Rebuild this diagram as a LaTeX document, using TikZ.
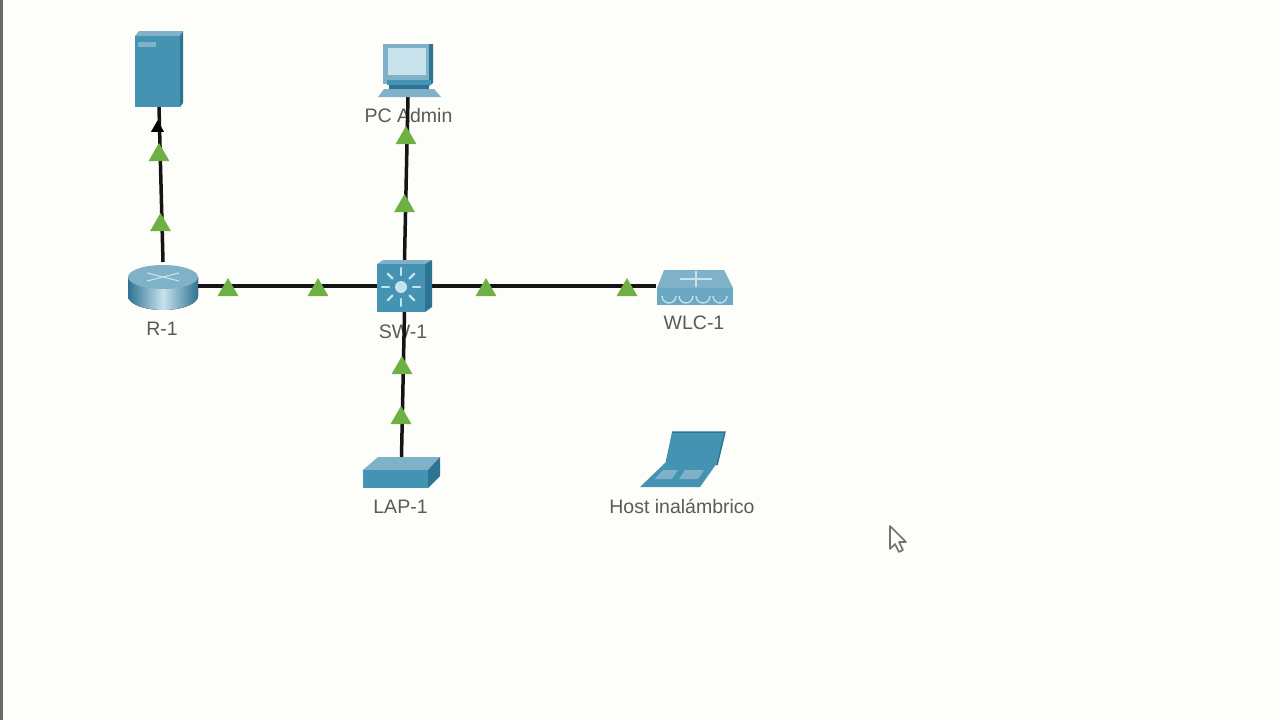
\documentclass[tikz,border=0pt]{standalone}
\usepackage{fontspec}
\setmainfont{Liberation Sans}
\usetikzlibrary{shapes.geometric,calc}
\definecolor{pagebg}{HTML}{FDFDFA}
\definecolor{edgebar}{HTML}{6A6A6A}
\definecolor{teal}{HTML}{4593B2}
\definecolor{tealdark}{HTML}{2F7392}
\definecolor{teallight}{HTML}{7FB2C8}
\definecolor{tealpale}{HTML}{C8E2EC}
\definecolor{linkgreen}{HTML}{6FB044}
\definecolor{labelgrey}{HTML}{5A5A5A}
\tikzset{
  device/.style={inner sep=0pt,outer sep=0pt,minimum width=#1},
  label text/.style={text=labelgrey,inner sep=0pt,font=\fontsize{19.5}{22}\selectfont},
  cable/.style={draw=black!92,line width=3.5pt},
  linkup/.style={regular polygon,regular polygon sides=3,fill=linkgreen,inner sep=0pt,outer sep=0pt,minimum size=24pt},
  linkend/.style={regular polygon,regular polygon sides=3,fill=black,inner sep=0pt,outer sep=0pt,minimum size=15pt},
  ray/.style={draw=tealpale,line width=2.2pt,line cap=round}
}
\begin{document}
\begin{tikzpicture}[x=1pt,y=-1pt]
\useasboundingbox (0,0) rectangle (1280,720);
\fill[pagebg] (0,0) rectangle (1280,720);
\fill[edgebar] (0,0) rectangle (3,720);

% anchors of the devices
\node[device=48pt,minimum height=74pt] (srv) at (159,70) {};
\node[device=62pt,minimum height=54pt] (pc) at (408,70) {};
\node[device=70pt,minimum height=48pt] (rtr) at (163,286) {};
\node[device=55pt,minimum height=52pt] (sw) at (404.5,286) {};
\node[device=76pt,minimum height=38pt] (wlc) at (694,286) {};
\node[device=78pt,minimum height=31pt] (lap) at (401.5,472.5) {};
\node[device=86pt,minimum height=56pt] (host) at (682,459) {};

% labels
\node[label text] (lsrvpc) at (408.5,116) {PC Admin};
\node[label text] (lrtr) at (162,329) {R-1};
\node[label text] (lsw) at (403,332) {SW-1};
\node[label text] (lwlc) at (694,323) {WLC-1};
\node[label text] (llap) at (400.5,507) {LAP-1};
\node[label text] (lhost) at (682,506) {Host inalámbrico};

% connectors
\draw[cable] (srv.south) -- (rtr.north);
\draw[cable] (sw.north) -- (pc.south);
\draw[cable] (rtr.east) -- (sw.west);
\draw[cable] (sw.east) -- (wlc.west);
\draw[cable] (sw.south) -- (lap.north);

% server
\fill[teallight] (135,36) -- (139,31) -- (183,31) -- (180,36) -- cycle;
\fill[tealdark] (180,36) -- (183,31) -- (183,103) -- (180,107) -- cycle;
\fill[teal] (135,36) rectangle (180,107);
\fill[teallight] (138,42) rectangle (156,47);

% PC
\fill[tealdark] (429,44) -- (433,44) -- (433,83) -- (429,86) -- cycle;
\fill[teallight] (383,44) rectangle (429,84);
\fill[tealpale] (388,48) rectangle (426,75);
\fill[teal] (387,80) rectangle (431,85);
\fill[tealdark] (389,85) rectangle (429,89);
\fill[teallight] (384,89) -- (434,89) -- (441,97) -- (378,97) -- cycle;

% router
\fill[left color=tealdark,right color=tealdark,middle color=tealpale] (128,277) -- (128,296) arc[start angle=180,end angle=360,x radius=35pt,y radius=14pt] -- (198,277) -- cycle;
\fill[teallight] (163,277) ellipse[x radius=35pt,y radius=12pt];
\draw[tealpale,line width=1.2pt] (147,273) -- (179,281) (147,281) -- (179,273);

% switch
\fill[teallight] (377,264) -- (383,260) -- (432,260) -- (425,264) -- cycle;
\fill[tealdark] (425,264) -- (432,260) -- (432,307) -- (425,312) -- cycle;
\fill[teal] (377,264) rectangle (425,312);
\fill[tealpale] (401,287) circle[radius=6pt];
\foreach \a in {0,45,...,315}
  \draw[ray] ($(401,287)+(\a:12pt)$) -- ($(401,287)+(\a:19pt)$);

% WLC
\fill[teallight] (664,270) -- (724,270) -- (733,288) -- (657,288) -- cycle;
\draw[tealpale,line width=1.5pt] (696,271) -- (696,287) (680,279) -- (712,279);
\fill[teal!80!white] (657,288) rectangle (733,305);
\foreach \c in {669,686,703,720}
  \draw[tealpale,line width=1.3pt] (\c-7,296) arc[start angle=180,end angle=360,radius=7pt];

% LAP
\fill[teallight] (363,470) -- (378,457) -- (440,457) -- (428,470) -- cycle;
\fill[tealdark] (428,470) -- (440,457) -- (440,476) -- (428,488) -- cycle;
\fill[teal] (363,470) rectangle (428,488);

% laptop
\fill[teal] (672,432) -- (725,432) -- (717,465) -- (665,465) -- cycle;
\draw[tealdark,line width=1.5pt] (672,432) -- (725,432) -- (717,465);
\fill[teal] (665,463) -- (717,463) -- (700,487) -- (640,487) -- cycle;
\fill[teallight] (663,470) -- (678,470) -- (672,479) -- (655,479) -- cycle;
\fill[teallight] (685,470) -- (704,470) -- (698,479) -- (679,479) -- cycle;

% link-state triangles
\node[linkend] (e1) at (157.5,128) {};
\node[linkup] (a1) at (159,155) {};
\node[linkup] (a2) at (160.5,225) {};
\node[linkup] (a3) at (406,138) {};
\node[linkup] (a4) at (404.5,206) {};
\node[linkup] (a5) at (228,290) {};
\node[linkup] (a6) at (318,290) {};
\node[linkup] (a7) at (486,290) {};
\node[linkup] (a8) at (627,290) {};
\node[linkup] (a9) at (402,368) {};
\node[linkup] (a10) at (401,418) {};

% mouse pointer
\draw[draw=black!55,fill=white,line width=1.6pt,line join=round] (890,526) -- (890,549) -- (895,544) -- (899,552) -- (903,550) -- (899,542) -- (906,542) -- cycle;
\end{tikzpicture}
\end{document}
